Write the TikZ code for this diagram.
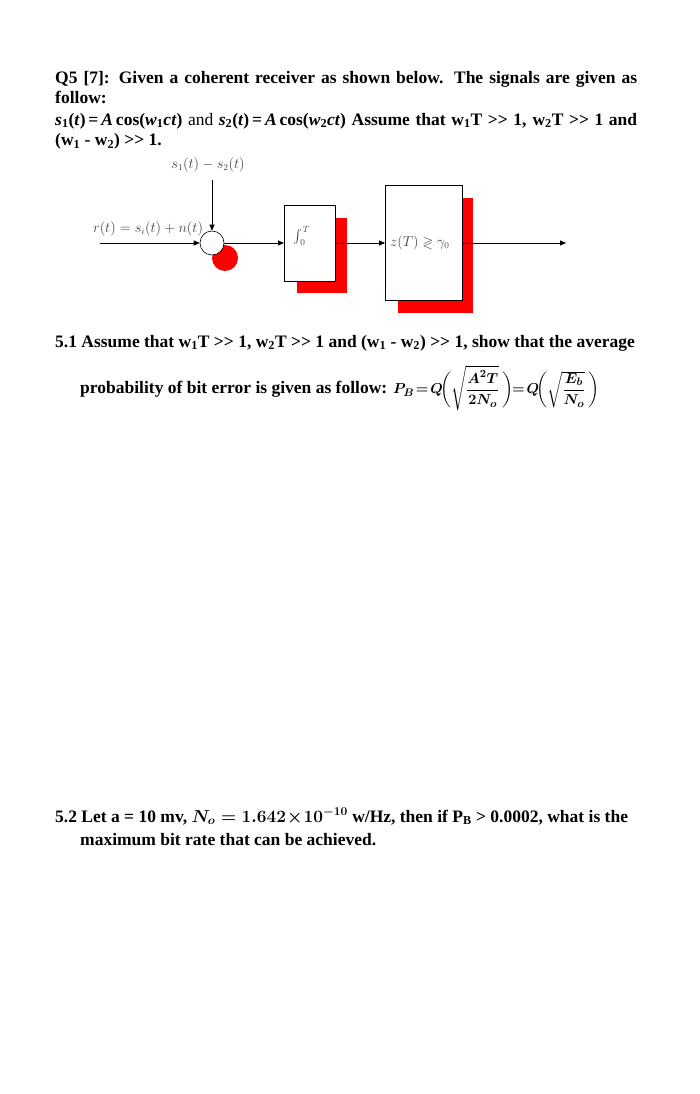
\documentclass[tikz,border=0pt]{standalone}
\usepackage{fontspec}
\usepackage{amsmath,amssymb}
\setmainfont{Liberation Serif}
\usetikzlibrary{arrows.meta}
\newcommand{\mygg}{{>}{>}}
\newcommand{\iv}[1]{\textit{#1}}
\begin{document}
\begin{tikzpicture}[x=1pt,y=-1pt,
  txt/.style={anchor=north west,inner sep=0pt,font=\fontsize{17.5}{20.5}\selectfont\bfseries\boldmath},
  para/.style={txt,text width=582pt,align=justify},
  blk/.style={draw,line width=0.6pt,fill=white},
  shadow/.style={fill=red},
  sig/.style={line width=0.8pt,-{Triangle[length=6pt,width=5pt]}},
  lab/.style={inner sep=0pt,text=black!75,font=\fontsize{13.5}{14}\selectfont\itshape}]
\useasboundingbox[fill=white] (0,0) rectangle (699,1094);
\node[para] (p1) at (55,71) {Q5 [7]: Given a coherent receiver as shown below. The signals are given as\linebreak follow:\\[1pt]
\iv{s}\textsubscript{1}(\iv{t})\,=\,\iv{A}\,cos(\iv{w}\textsubscript{1}\iv{ct}) \textmd{and} \iv{s}\textsubscript{2}(\iv{t})\,=\,\iv{A}\,cos(\iv{w}\textsubscript{2}\iv{ct}) Assume that w\textsubscript{1}T \mygg\ 1, w\textsubscript{2}T \mygg\ 1 and\linebreak (w\textsubscript{1} - w\textsubscript{2}) \mygg\ 1.};
% diagram
\fill[shadow] (225,258) circle (13);
\node[circle,blk,minimum size=24pt,inner sep=0pt] (sum) at (212,243) {};
\coordinate (in) at (100,243);
\coordinate (top) at (212,180);
\node[lab] (slab) at (208,165) {$s_1(t)-s_2(t)$};
\node[lab] (rlab) at (148,229) {$r(t)=s_i(t)+n(t)$};
\fill[shadow] (297,218) rectangle (347,293);
\node[blk,minimum width=51pt,minimum height=76pt,anchor=north west] (b1) at (284,205) {};
\node[lab] (int) at (302,236) {$\int_0^T$};
\fill[shadow] (398,198) rectangle (473,313);
\node[blk,minimum width=77pt,minimum height=115pt,anchor=north west] (b2) at (385,185) {};
\node[lab,anchor=west] (dec) at (390,243) {$z(T)\gtrless\gamma_0$};
\coordinate (out) at (566,243);
\draw[sig] (in) -- (sum);
\draw[sig] (top) -- (sum);
\draw[sig] (sum) -- (b1.west|-sum);
\draw[sig] (b1.east|-sum) -- (b2.west|-sum);
\draw[sig] (b2.east|-sum) -- (out);
% 5.1
\node[para] (q51) at (55,335) {5.1 Assume that w\textsubscript{1}T \mygg\ 1, w\textsubscript{2}T \mygg\ 1 and (w\textsubscript{1} - w\textsubscript{2}) \mygg\ 1, show that the average};
\node[txt,anchor=west] (q51b) at (80,388) {probability of bit error is given as follow: \fontsize{15}{17}\selectfont$P_B\!=\!Q\!\biggl(\sqrt{\dfrac{A^2T}{2N_o}}\,\biggr)\!\!=\!Q\!\biggl(\sqrt{\dfrac{E_b}{N_o}}\,\biggr)$};
% 5.2
\node[para] (q52) at (55,808) {5.2 Let a = 10 mv, $N_o=1.642\!\times\!10^{-10}$ w/Hz, then if P\textsubscript{B} > 0.0002, what is the};
\node[txt] (q52b) at (80,833) {maximum bit rate that can be achieved.};
\end{tikzpicture}
\end{document}
